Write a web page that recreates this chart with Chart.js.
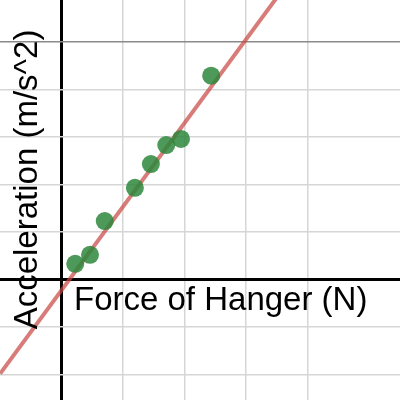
<!DOCTYPE html>
<html>
<head>
<meta charset="utf-8">
<script src="https://cdn.jsdelivr.net/npm/chart.js@4"></script>
<style>
  html, body { margin: 0; padding: 0; background: #fff; }
  #wrap { width: 400px; height: 400px; }
</style>
</head>
<body>
<div id="wrap"><canvas id="plot"></canvas></div>
<script>
// measured data (force N, acceleration m/s^2)
const forceN = [0.22, 0.46, 0.70, 1.19, 1.45, 1.70, 1.94, 2.43];
const accel = [0.33, 0.52, 1.23, 1.93, 2.43, 2.83, 2.96, 4.29];
// fitted line endpoints
const fitX = [-1.0, 5.5];
const fitY = [-1.98, 9.46];
const xTitle = 'Force of Hanger (N)';
const yTitle = 'Acceleration (m/s^2)';

function gridColor(ctx) {
  const v = ctx.tick.value;
  if (Math.abs(v) < 1e-6) return '#000';
  if (Math.abs(v - Math.round(v)) > 1e-6) return 'rgba(0,0,0,0)';
  return Math.round(v) % 5 === 0 ? '#8a8a8a' : '#d6d6d6';
}
function gridWidth(ctx) {
  return Math.abs(ctx.tick.value) < 1e-6 ? 3 : 1.5;
}

const labelsPlugin = {
  id: 'labels',
  afterDatasetsDraw(chart) {
    const c = chart.ctx, x = chart.scales.x, y = chart.scales.y;
    c.save();
    c.fillStyle = '#000';
    c.font = '33px "Liberation Sans", Arial, sans-serif';
    c.textBaseline = 'alphabetic';
    c.textAlign = 'left';
    c.fillText(xTitle, x.getPixelForValue(0.2), y.getPixelForValue(-0.65));
    c.translate(x.getPixelForValue(-0.4), y.getPixelForValue(-1.05));
    c.rotate(-Math.PI / 2);
    c.fillText(yTitle, 0, 0);
    c.restore();
  }
};

new Chart(document.getElementById('plot').getContext('2d'), {
  type: 'scatter',
  data: {
    datasets: [{
      type: 'line',
      data: fitX.map((v, i) => ({ x: v, y: fitY[i] })),
      borderColor: 'rgba(199,68,64,0.7)',
      borderWidth: 4,
      pointRadius: 0,
      order: 2
    }, {
      data: forceN.map((v, i) => ({ x: v, y: accel[i] })),
      backgroundColor: 'rgba(45,135,60,0.85)',
      borderWidth: 0,
      pointRadius: 9,
      order: 1
    }]
  },
  plugins: [labelsPlugin],
  options: {
    responsive: true,
    maintainAspectRatio: false,
    animation: false,
    layout: { padding: 0, autoPadding: false },
    plugins: { legend: false, tooltip: { enabled: false } },
    scales: {
      x: {
        type: 'linear', min: -1.003, max: 5.5,
        ticks: { display: false, stepSize: 1, padding: 0 },
        border: { display: false },
        grid: { color: gridColor, lineWidth: gridWidth, drawTicks: false }
      },
      y: {
        type: 'linear', min: -2.537, max: 5.884,
        ticks: { display: false, stepSize: 1, padding: 0 },
        border: { display: false },
        grid: { color: gridColor, lineWidth: gridWidth, drawTicks: false }
      }
    }
  }
});
</script>
</body>
</html>
